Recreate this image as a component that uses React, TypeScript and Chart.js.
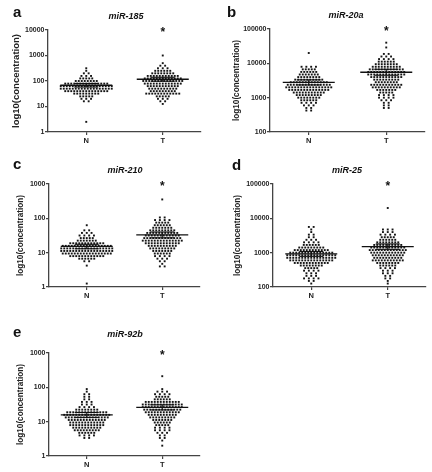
import React, { useEffect, useRef } from "react";
import { Chart, registerables } from "chart.js";

Chart.register(...registerables);
Chart.defaults.font.family = "'Liberation Sans', Arial, sans-serif";

const groupLabels = ["N", "T"];
const yTitle = "log10(concentration)";

// ---- a: miR-185 ----
const aNLevels = [316, 251, 200, 158, 126, 100, 79, 63, 50, 40, 32, 25, 20, 16, 2.5];
const aNCounts = [1, 1, 2, 3, 5, 8, 15, 18, 18, 15, 9, 5, 3, 2, 1];
const aTLevels = [1000, 501, 398, 316, 251, 200, 158, 126, 100, 79, 63, 50, 40, 32, 25, 20, 16, 12.6];
const aTCounts = [1, 1, 2, 3, 6, 8, 11, 13, 14, 13, 11, 10, 9, 12, 5, 3, 2, 1];
const aMeans = [68, 117];
const aSemLow = [58, 98];
const aSemHigh = [80, 140];
const aTicks = [1, 10, 100, 1000, 10000];

// ---- b: miR-20a ----
const bNLevels = [20000, 7940, 6680, 5620, 4730, 3980, 3350, 2820, 2370, 2000, 1680, 1410, 1190, 1000, 841, 708, 596, 501, 422];
const bNCounts = [1, 4, 5, 6, 7, 8, 10, 13, 15, 16, 14, 11, 9, 8, 6, 4, 3, 2, 2];
const bTLevels = [40000, 29000, 18800, 15800, 13300, 11200, 9440, 7940, 6680, 5620, 4730, 3980, 3350, 2820, 2370, 2000, 1680, 1410, 1190, 1000, 841, 708, 596, 501];
const bTCounts = [1, 1, 2, 3, 4, 6, 8, 10, 12, 13, 13, 11, 9, 8, 11, 10, 7, 5, 4, 4, 3, 2, 2, 2];
const bMeans = [2800, 5500];
const bSemLow = [2350, 4500];
const bSemHigh = [3300, 6700];
const bTicks = [100, 1000, 10000, 100000];

// ---- c: miR-210 ----
const cNLevels = [63, 44.7, 37.6, 31.6, 26.6, 22.4, 18.8, 15.8, 13.3, 11.2, 9.44, 7.94, 6.68, 5.62, 4.2, 1.26];
const cNCounts = [1, 2, 3, 4, 5, 7, 12, 17, 18, 18, 17, 12, 6, 2, 1, 1];
const cTLevels = [355, 106, 89.1, 75, 63.1, 53.1, 44.7, 37.6, 31.6, 26.6, 22.4, 18.8, 15.8, 13.3, 11.2, 9.44, 7.94, 6.68, 5.62, 4.73, 3.98];
const cTCounts = [1, 2, 4, 5, 6, 7, 9, 11, 12, 13, 14, 12, 10, 9, 7, 6, 4, 3, 2, 1, 2];
const cMeans = [15.2, 33];
const cSemLow = [13, 27];
const cSemHigh = [17.5, 40];
const cTicks = [1, 10, 100, 1000];

// ---- d: miR-25 ----
const dNLevels = [5620, 4730, 3980, 3350, 2820, 2370, 2000, 1680, 1410, 1190, 1000, 841, 708, 596, 501, 422, 355, 299, 251, 211, 178, 150, 126];
const dNCounts = [2, 1, 1, 2, 2, 3, 4, 6, 9, 12, 15, 17, 17, 15, 12, 8, 5, 4, 3, 3, 4, 2, 1];
const dTLevels = [20000, 4730, 3980, 3350, 2820, 2370, 2000, 1680, 1410, 1190, 1000, 841, 708, 596, 501, 422, 355, 299, 251, 211, 178, 150, 126];
const dTCounts = [1, 3, 3, 4, 5, 6, 8, 10, 12, 13, 12, 11, 10, 11, 8, 6, 4, 3, 3, 2, 2, 1, 1];
const dMeans = [920, 1500];
const dSemLow = [780, 1250];
const dSemHigh = [1080, 1800];
const dTicks = [100, 1000, 10000, 100000];

// ---- e: miR-92b ----
const eNLevels = [89.1, 75, 63.1, 53.1, 44.7, 37.6, 31.6, 26.6, 22.4, 18.8, 15.8, 13.3, 11.2, 9.44, 7.94, 6.68, 5.62, 4.73, 3.98, 3.35];
const eNCounts = [1, 1, 2, 2, 2, 3, 3, 4, 8, 14, 16, 15, 13, 12, 12, 10, 9, 6, 4, 2];
const eTLevels = [211, 89.1, 75, 63.1, 53.1, 44.7, 37.6, 31.6, 26.6, 22.4, 18.8, 15.8, 13.3, 11.2, 9.44, 7.94, 6.68, 5.62, 4.73, 3.98, 3.35, 2.82, 2.0];
const eTCounts = [1, 1, 3, 4, 5, 6, 12, 14, 14, 13, 12, 10, 9, 7, 6, 5, 4, 4, 3, 2, 2, 1, 1];
const eMeans = [15.7, 26];
const eSemLow = [13.3, 22];
const eSemHigh = [18.5, 31];
const eTicks = [1, 10, 100, 1000];

type Layout = {
  left: number; top: number; w: number; h: number;
  pad: { left: number; right: number; top: number; bottom: number };
  yW: number; xH: number; yTitleSize: number;
  letterX: number; letterY: number; titleX: number; titleY: number;
};

const panels = [
  {
    letter: "a", title: "miR-185", nLevels: aNLevels, nCounts: aNCounts, tLevels: aTLevels, tCounts: aTCounts,
    means: aMeans, semLow: aSemLow, semHigh: aSemHigh, ticks: aTicks,
    layout: { left: 0, top: 0, w: 216, h: 155, pad: { left: 11, right: 15, top: 30, bottom: 9 }, yW: 37, xH: 14, yTitleSize: 9.5, letterX: 13, letterY: 17, titleX: 126, titleY: 18.5 } as Layout,
  },
  {
    letter: "b", title: "miR-20a", nLevels: bNLevels, nCounts: bNCounts, tLevels: bTLevels, tCounts: bTCounts,
    means: bMeans, semLow: bSemLow, semHigh: bSemHigh, ticks: bTicks,
    layout: { left: 216, top: 0, w: 216, h: 155, pad: { left: 16, right: 7, top: 29, bottom: 9 }, yW: 38, xH: 14, yTitleSize: 8.2, letterX: 11, letterY: 17, titleX: 130, titleY: 17.5 } as Layout,
  },
  {
    letter: "c", title: "miR-210", nLevels: cNLevels, nCounts: cNCounts, tLevels: cTLevels, tCounts: cTCounts,
    means: cMeans, semLow: cSemLow, semHigh: cSemHigh, ticks: cTicks,
    layout: { left: 0, top: 155, w: 216, h: 155, pad: { left: 16, right: 16, top: 29, bottom: 9 }, yW: 33, xH: 14, yTitleSize: 8.2, letterX: 13, letterY: 14, titleX: 125, titleY: 17.5 } as Layout,
  },
  {
    letter: "d", title: "miR-25", nLevels: dNLevels, nCounts: dNCounts, tLevels: dTLevels, tCounts: dTCounts,
    means: dMeans, semLow: dSemLow, semHigh: dSemHigh, ticks: dTicks,
    layout: { left: 216, top: 155, w: 216, h: 155, pad: { left: 17, right: 6, top: 29, bottom: 9 }, yW: 40, xH: 14, yTitleSize: 8.2, letterX: 16, letterY: 15, titleX: 131, titleY: 17.5 } as Layout,
  },
  {
    letter: "e", title: "miR-92b", nLevels: eNLevels, nCounts: eNCounts, tLevels: eTLevels, tCounts: eTCounts,
    means: eMeans, semLow: eSemLow, semHigh: eSemHigh, ticks: eTicks,
    layout: { left: 0, top: 310, w: 216, h: 162, pad: { left: 16, right: 16, top: 43, bottom: 2 }, yW: 33, xH: 14, yTitleSize: 8.2, letterX: 13, letterY: 27, titleX: 125, titleY: 27 } as Layout,
  },
];

function expand(levels: number[], counts: number[]) {
  const out: number[] = [];
  levels.forEach((v, i) => {
    for (let k = 0; k < counts[i]; k++) out.push(v);
  });
  return out;
}

function swarm(values: number[], center: number, dx: number) {
  const rows = new Map<number, number>();
  values.forEach((v) => rows.set(v, (rows.get(v) || 0) + 1));
  const pts: { x: number; y: number }[] = [];
  rows.forEach((n, v) => {
    // sparse rows are spread a little wider, as the reference plotter does
    const step = n <= 4 ? dx * 1.6 : dx;
    for (let i = 0; i < n; i++) pts.push({ x: center + (i - (n - 1) / 2) * step, y: v });
  });
  return pts;
}

const panelText = {
  id: "panelText",
  afterDraw(chart: any, _args: any, opts: any) {
    const ctx = chart.ctx as CanvasRenderingContext2D;
    const top = chart.chartArea.top;
    ctx.save();
    ctx.fillStyle = "#111";
    ctx.textBaseline = "alphabetic";
    ctx.textAlign = "left";
    ctx.font = "bold 15px 'Liberation Sans', Arial, sans-serif";
    ctx.fillText(opts.letter, opts.letterX, opts.letterY);
    ctx.textAlign = "center";
    ctx.font = "italic bold 9px 'Liberation Sans', Arial, sans-serif";
    ctx.fillText(opts.title, opts.titleX, opts.titleY);
    ctx.font = "bold 12px 'Liberation Sans', Arial, sans-serif";
    const xT = chart.scales.x.getPixelForValue(1);
    ctx.fillText("*", xT, top + 5.5);
    ctx.restore();
  },
};

const AXIS = "#444";
const INK = "#111";

function Panel({ p }: { p: (typeof panels)[number] }) {
  const ref = useRef<HTMLCanvasElement>(null);
  useEffect(() => {
    const L = p.layout;
    const plotW = L.w - L.pad.left - L.pad.right - L.yW;
    const pxPerUnit = plotW / 2;
    const dx = 3.0 / pxPerUnit;
    const meanHalf = 26 / pxPerUnit;
    const capHalf = 12 / pxPerUnit;

    const nPts = swarm(expand(p.nLevels, p.nCounts), 0, dx);
    const tPts = swarm(expand(p.tLevels, p.tCounts), 1, dx);

    const lineDs = (data: { x: number; y: number }[], width: number) => ({
      type: "line" as const,
      data,
      borderColor: INK,
      borderWidth: width,
      pointRadius: 0,
      fill: false,
      order: 0,
    });

    const lineSets: any[] = [];
    [0, 1].forEach((g) => {
      lineSets.push(lineDs([{ x: g - meanHalf, y: p.means[g] }, { x: g + meanHalf, y: p.means[g] }], 1.3));
      lineSets.push(lineDs([{ x: g - capHalf, y: p.semHigh[g] }, { x: g + capHalf, y: p.semHigh[g] }], 1.1));
      lineSets.push(lineDs([{ x: g - capHalf, y: p.semLow[g] }, { x: g + capHalf, y: p.semLow[g] }], 1.1));
      lineSets.push(lineDs([{ x: g, y: p.semLow[g] }, { x: g, y: p.semHigh[g] }], 1.1));
    });

    const pointDs = (data: { x: number; y: number }[]) => ({
      type: "scatter" as const,
      data,
      pointStyle: "rect",
      pointRadius: 1.35,
      pointBackgroundColor: "#151515",
      pointBorderWidth: 0,
      order: 1,
    });

    const grid = { drawOnChartArea: false, drawTicks: true, tickLength: 3, color: AXIS, lineWidth: 1.2 };
    const border = { display: true, color: AXIS, width: 1.3 };

    const chart = new Chart(ref.current!, {
      type: "scatter",
      data: { datasets: [...lineSets, pointDs(nPts), pointDs(tPts)] },
      options: {
        responsive: false,
        animation: false,
        events: [],
        layout: { padding: L.pad },
        plugins: {
          legend: { display: false },
          tooltip: { enabled: false },
          title: { display: false },
          panelText: {
            letter: p.letter, title: p.title,
            letterX: L.letterX, letterY: L.letterY, titleX: L.titleX, titleY: L.titleY,
          },
        } as any,
        scales: {
          x: {
            type: "linear",
            min: -0.5,
            max: 1.5,
            afterBuildTicks: (s: any) => {
              s.ticks = [0, 1].map((v) => ({ value: v }));
            },
            afterFit: (s: any) => {
              s.height = L.xH;
            },
            ticks: {
              callback: (_v: any, i: number) => groupLabels[i],
              font: { size: 7.5, weight: "bold" },
              color: "#222",
              padding: 1,
              maxRotation: 0,
              autoSkip: false,
            },
            grid,
            border,
          },
          y: {
            type: "logarithmic",
            min: p.ticks[0],
            max: p.ticks[p.ticks.length - 1],
            afterBuildTicks: (s: any) => {
              s.ticks = p.ticks.map((v) => ({ value: v }));
            },
            afterFit: (s: any) => {
              s.width = L.yW;
            },
            ticks: {
              callback: (v: any) => String(v),
              font: { size: 7, weight: "bold" },
              color: "#222",
              padding: 0.5,
              autoSkip: false,
            },
            grid,
            border,
            title: {
              display: true,
              text: yTitle,
              font: { size: L.yTitleSize, weight: "bold" },
              color: "#222",
              padding: 0,
            },
          },
        } as any,
      },
      plugins: [panelText as any],
    } as any);
    return () => chart.destroy();
  }, [p]);
  const L = p.layout;
  return (
    <canvas
      ref={ref}
      width={L.w}
      height={L.h}
      style={{ position: "absolute", left: L.left, top: L.top, width: L.w, height: L.h, display: "block" }}
    />
  );
}

export default function App() {
  return (
    <div style={{ position: "absolute", left: 0, top: 0, width: 432, height: 472, background: "#fff", overflow: "hidden" }}>
      {panels.map((p) => (
        <Panel key={p.letter} p={p} />
      ))}
    </div>
  );
}
